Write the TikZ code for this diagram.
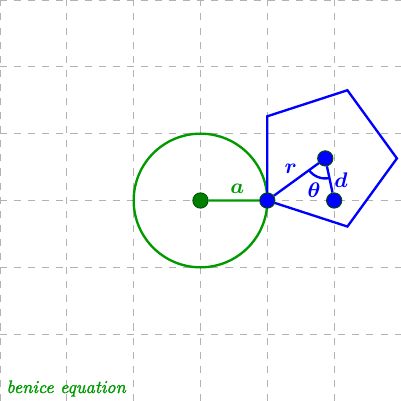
\documentclass[tikz,border=0pt]{standalone}
\usepackage{amsmath,bm}
\usepackage{fontspec}
\newfontface\titlefont{lmroman10-italic.otf}[FakeBold=1.6]
\usetikzlibrary{positioning, calc}
\tikzset{gridline/.style={black!30, dashed, thin}}
\tikzset{circ/.style={green!60!black, line width=1pt}}
\tikzset{pent/.style={blue, line width=1pt}}
\tikzset{dot/.style={circle, inner sep=0pt, minimum size=6.5pt, draw=green!30!black, fill=#1}}
\tikzset{lab/.style={font=\small, text=#1}}

\begin{document}
\begin{tikzpicture}
  \useasboundingbox (-3,-3) rectangle (3,3);
  \draw[gridline] (-3,-3) grid (3,3);

  \draw[circ] (0,0) circle (1);
  \coordinate (C) at (1.867,0.63);
  \foreach \i/\ang in {1/216,2/144,3/72,4/0,5/288}
    \coordinate (P\i) at ($(C)+(\ang:1.072)$);
  \draw[pent] (P1) -- (P2) -- (P3) -- (P4) -- (P5) -- cycle;

  \node[dot=green!50!black] (O) at (0,0) {};
  \node[dot=blue] (A) at (P1) {};
  \node[dot=blue] (M) at (C) {};
  \node[dot=blue] (D) at (2,0) {};

  \draw[circ] (O) -- (A);
  \draw[pent] (A) -- (M) -- (D);
  \draw[pent] ($(C)+(216:0.3)$) arc (216:282:0.3);

  \node[lab=green!60!black] (la) at (0.55,0.18) {$\bm{a}$};
  \node[lab=blue] (lr) at (1.35,0.47) {$\bm{r}$};
  \node[lab=blue] (lt) at (1.7,0.16) {$\bm{\theta}$};
  \node[lab=blue] (ld) at (2.1,0.31) {$\bm{d}$};
  \node[lab=green!60!black, font=\titlefont\fontsize{7.7}{9}\selectfont, anchor=base west, inner sep=0pt] (title) at (-2.91,-2.88) {benice equation};
\end{tikzpicture}
\end{document}
